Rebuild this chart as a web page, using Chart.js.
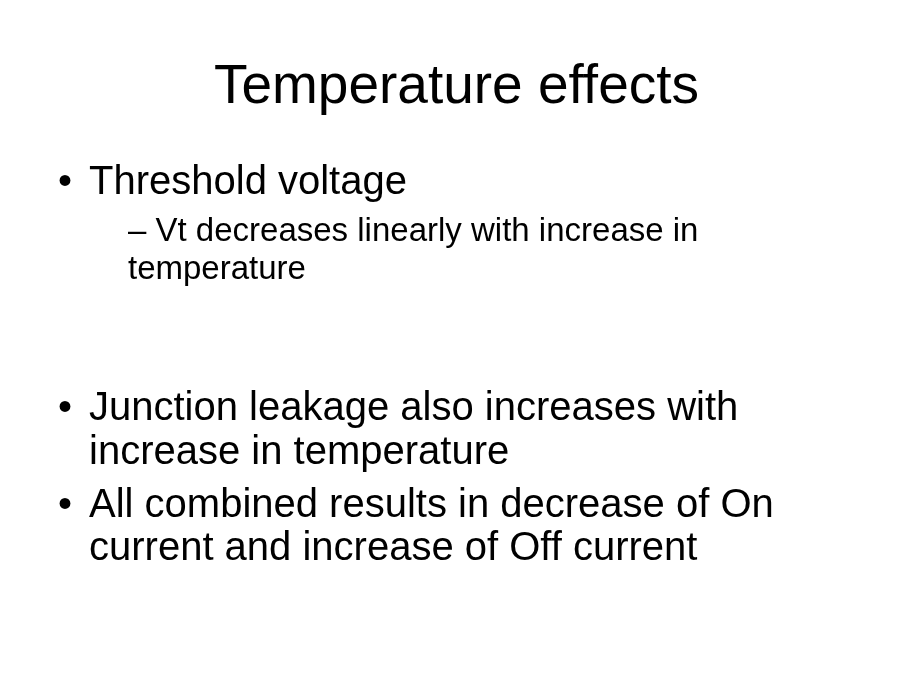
<!DOCTYPE html>
<html><head><meta charset="utf-8">
<script src="https://cdn.jsdelivr.net/npm/chart.js@4"></script>
<style>
html,body{margin:0;width:900px;height:675px;background:#fff;overflow:hidden;font-family:"Liberation Sans",Arial,sans-serif;color:#000}
.t{position:absolute;white-space:nowrap;line-height:normal}
#c{position:absolute;left:0;top:0;width:900px;height:675px}
</style></head><body>
<canvas id="c" width="900" height="675"></canvas>
<div id="txt"></div>
<script>
const title = "Temperature effects";
const lines = [
  {kind:"bullet", text:"Threshold voltage", base:197},
  {kind:"dash", text:"Vt decreases linearly with increase in", base:243},
  {kind:"cont2", text:"temperature", base:281},
  {kind:"bullet", text:"Junction leakage also increases with", base:423},
  {kind:"cont", text:"increase in temperature", base:467},
  {kind:"bullet", text:"All combined results in decrease of On", base:520},
  {kind:"cont", text:"current and increase of Off current", base:563}
];
// empty Chart.js canvas (slide has no plotted data)
new Chart(document.getElementById('c'), {type:'line', data:{labels:[], datasets:[]},
  options:{responsive:false, animation:false, plugins:{legend:{display:false}}, scales:{x:{display:false}, y:{display:false}}}});
const box = document.getElementById('txt');
function add(text, x, base, fs, center){
  const d = document.createElement('div'); d.className='t'; d.textContent=text;
  d.style.fontSize=fs+'px'; d.style.top=(base-0.905*fs-0.0585*fs)+'px';
  if(center){d.style.left='0';d.style.width='900px';d.style.textAlign='center';d.style.paddingLeft='13px';d.style.boxSizing='border-box';}
  else d.style.left=x+'px';
  box.appendChild(d);
}
add(title, 0, 105, 55, true);
for(const l of lines){
  if(l.kind==="bullet"){ add("•", 58, l.base, 40); add(l.text, 89, l.base, 40); }
  else if(l.kind==="cont"){ add(l.text, 89, l.base, 40); }
  else if(l.kind==="dash"){ add("– "+l.text, 128, l.base, 33); }
  else { add(l.text, 128, l.base, 33); }
}
</script>
</body></html>
